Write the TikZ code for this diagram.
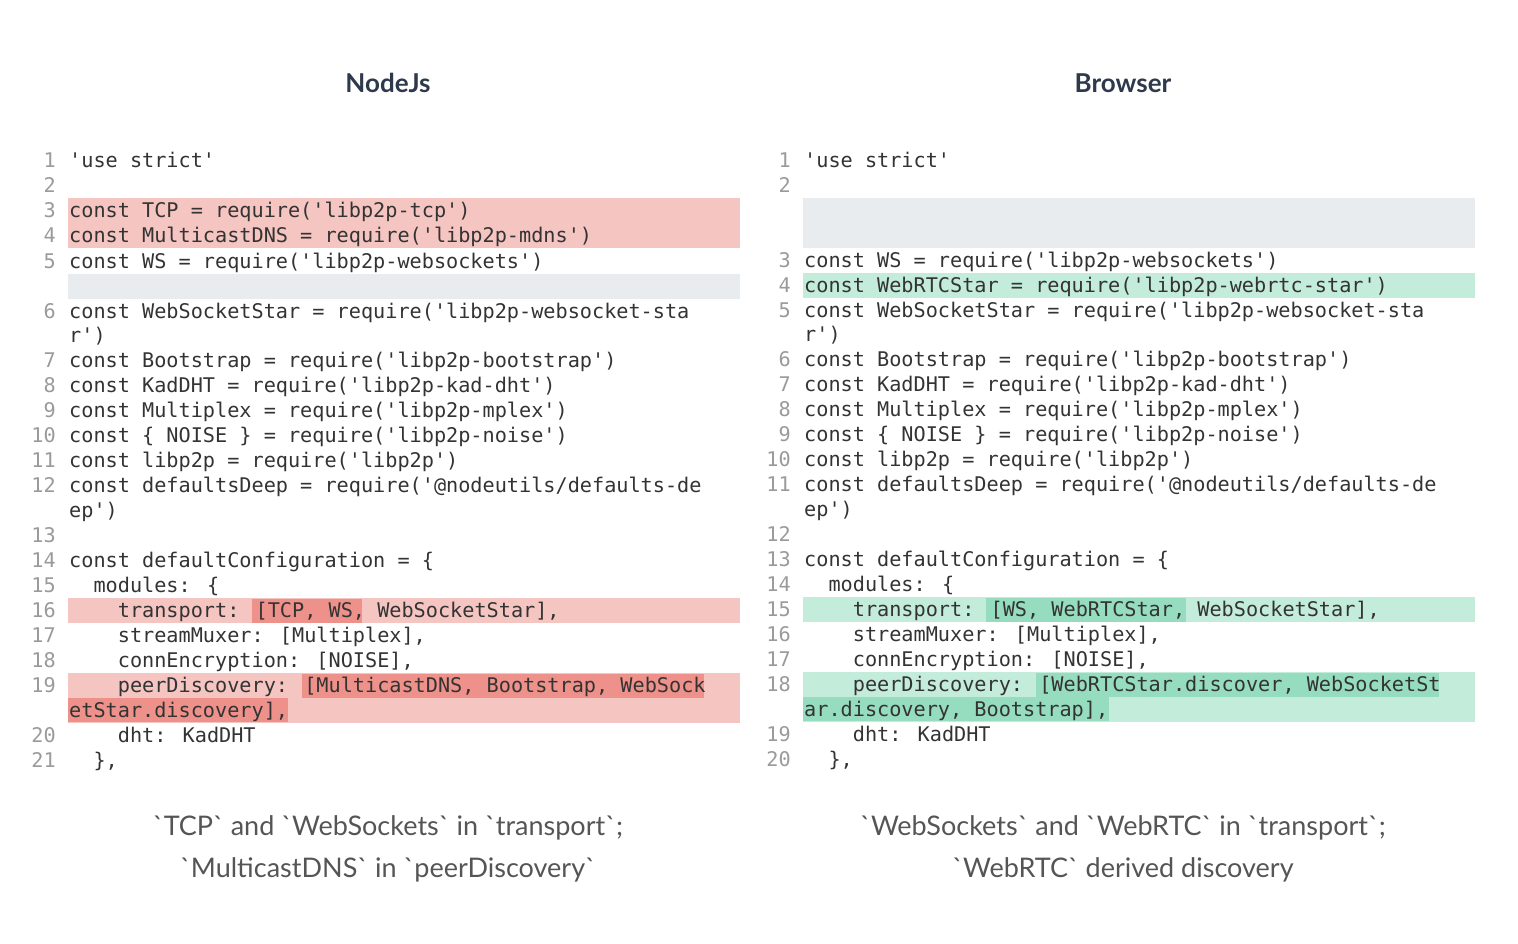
\documentclass[tikz,border=0pt]{standalone}
\usepackage{fontspec}
\setmainfont{Lato}
\newfontfamily\codefont{DejaVu Sans Mono}
\newfontfamily\capfont{Lato}
\definecolor{redL}{HTML}{F5C5C2}
\definecolor{redD}{HTML}{EE918A}
\definecolor{grnL}{HTML}{C3ECDB}
\definecolor{grnD}{HTML}{96DCBF}
\definecolor{grayB}{HTML}{E9ECEF}
\definecolor{txt}{HTML}{333333}
\definecolor{num}{HTML}{9A9A9A}
\definecolor{title}{HTML}{2E3A4B}
\definecolor{cap}{HTML}{555555}
\newcommand{\ind}[1]{\phantom{#1}}
\begin{document}
\begin{tikzpicture}[x=1pt,y=-1pt,
  code/.style={anchor=base west,inner sep=0pt,text=txt,font=\codefont\fontsize{20.2}{25}\selectfont},
  ln/.style={anchor=base east,inner sep=0pt,text=num,font=\codefont\fontsize{20.2}{25}\selectfont},
  ttl/.style={font=\fontsize{26}{30}\selectfont\bfseries,text=title},
  capn/.style={font=\capfont\fontsize{27}{42}\selectfont,text=cap,align=center}]
\useasboundingbox (0,0) rectangle (1518,944);
% bands left
\fill[redL] (68,198.5) rectangle (740,248.5);
\fill[grayB] (68,273.5) rectangle (740,298.5);
\fill[redL] (68,597.5) rectangle (740,622.5);
\fill[redL] (68,672.5) rectangle (740,722.5);
\fill[redD] (252,598.5) rectangle (362,622.5);
\fill[redD] (302,673.5) rectangle (704,697.5);
\fill[redD] (68,697.5) rectangle (288,721.5);
% bands right
\fill[grayB] (803,198.5) rectangle (1475,248.5);
\fill[grnL] (803,272.5) rectangle (1475,297.5);
\fill[grnL] (803,596.5) rectangle (1475,621.5);
\fill[grnL] (803,671.5) rectangle (1475,721.5);
\fill[grnD] (986,597.5) rectangle (1186,621.5);
\fill[grnD] (1036,672.5) rectangle (1439,696.5);
\fill[grnD] (803,696.5) rectangle (1109,720.5);
% titles
\node[ttl] (tL) at (388,83) {NodeJs};
\node[ttl] (tR) at (1123,83) {Browser};
% left code
\def\X{69}\def\N{56}
\node[ln] (nL1) at (\N,168) {1}; \node[code] (cL1) at (\X,168) {'use strict'};
\node[ln] (nL2) at (\N,193) {2};
\node[ln] (nL3) at (\N,218) {3}; \node[code] (cL3) at (\X,218) {const TCP = require('libp2p-tcp')};
\node[ln] (nL4) at (\N,243) {4}; \node[code] (cL4) at (\X,243) {const MulticastDNS = require('libp2p-mdns')};
\node[ln] (nL5) at (\N,268) {5}; \node[code] (cL5) at (\X,268) {const WS = require('libp2p-websockets')};
\node[ln] (nL6) at (\N,318) {6}; \node[code] (cL6) at (\X,318) {const WebSocketStar = require('libp2p-websocket-sta};
\node[code] (cL6b) at (\X,342) {r')};
\node[ln] (nL7) at (\N,367) {7}; \node[code] (cL7) at (\X,367) {const Bootstrap = require('libp2p-bootstrap')};
\node[ln] (nL8) at (\N,392) {8}; \node[code] (cL8) at (\X,392) {const KadDHT = require('libp2p-kad-dht')};
\node[ln] (nL9) at (\N,417) {9}; \node[code] (cL9) at (\X,417) {const Multiplex = require('libp2p-mplex')};
\node[ln] (nL10) at (\N,442) {10}; \node[code] (cL10) at (\X,442) {const \{ NOISE \} = require('libp2p-noise')};
\node[ln] (nL11) at (\N,467) {11}; \node[code] (cL11) at (\X,467) {const libp2p = require('libp2p')};
\node[ln] (nL12) at (\N,492) {12}; \node[code] (cL12) at (\X,492) {const defaultsDeep = require('@nodeutils/defaults-de};
\node[code] (cL12b) at (\X,517) {ep')};
\node[ln] (nL13) at (\N,542) {13};
\node[ln] (nL14) at (\N,567) {14}; \node[code] (cL14) at (\X,567) {const defaultConfiguration = \{};
\node[ln] (nL15) at (\N,592) {15}; \node[code] (cL15) at (\X,592) {\ind{mm}modules: \{};
\node[ln] (nL16) at (\N,617) {16}; \node[code] (cL16) at (\X,617) {\ind{mmmm}transport: [TCP, WS, WebSocketStar],};
\node[ln] (nL17) at (\N,642) {17}; \node[code] (cL17) at (\X,642) {\ind{mmmm}streamMuxer: [Multiplex],};
\node[ln] (nL18) at (\N,667) {18}; \node[code] (cL18) at (\X,667) {\ind{mmmm}connEncryption: [NOISE],};
\node[ln] (nL19) at (\N,692) {19}; \node[code] (cL19) at (\X,692) {\ind{mmmm}peerDiscovery: [MulticastDNS, Bootstrap, WebSock};
\node[code] (cL19b) at (\X,717) {etStar.discovery],};
\node[ln] (nL20) at (\N,742) {20}; \node[code] (cL20) at (\X,742) {\ind{mmmm}dht: KadDHT};
\node[ln] (nL21) at (\N,767) {21}; \node[code] (cL21) at (\X,767) {\ind{mm}\},};
% right code
\def\X{804}\def\N{791}
\node[ln] (nR1) at (\N,168) {1}; \node[code] (cR1) at (\X,168) {'use strict'};
\node[ln] (nR2) at (\N,193) {2};
\node[ln] (nR3) at (\N,267) {3}; \node[code] (cR3) at (\X,267) {const WS = require('libp2p-websockets')};
\node[ln] (nR4) at (\N,292) {4}; \node[code] (cR4) at (\X,292) {const WebRTCStar = require('libp2p-webrtc-star')};
\node[ln] (nR5) at (\N,317) {5}; \node[code] (cR5) at (\X,317) {const WebSocketStar = require('libp2p-websocket-sta};
\node[code] (cR5b) at (\X,341) {r')};
\node[ln] (nR6) at (\N,366) {6}; \node[code] (cR6) at (\X,366) {const Bootstrap = require('libp2p-bootstrap')};
\node[ln] (nR7) at (\N,391) {7}; \node[code] (cR7) at (\X,391) {const KadDHT = require('libp2p-kad-dht')};
\node[ln] (nR8) at (\N,416) {8}; \node[code] (cR8) at (\X,416) {const Multiplex = require('libp2p-mplex')};
\node[ln] (nR9) at (\N,441) {9}; \node[code] (cR9) at (\X,441) {const \{ NOISE \} = require('libp2p-noise')};
\node[ln] (nR10) at (\N,466) {10}; \node[code] (cR10) at (\X,466) {const libp2p = require('libp2p')};
\node[ln] (nR11) at (\N,491) {11}; \node[code] (cR11) at (\X,491) {const defaultsDeep = require('@nodeutils/defaults-de};
\node[code] (cR11b) at (\X,516) {ep')};
\node[ln] (nR12) at (\N,541) {12};
\node[ln] (nR13) at (\N,566) {13}; \node[code] (cR13) at (\X,566) {const defaultConfiguration = \{};
\node[ln] (nR14) at (\N,591) {14}; \node[code] (cR14) at (\X,591) {\ind{mm}modules: \{};
\node[ln] (nR15) at (\N,616) {15}; \node[code] (cR15) at (\X,616) {\ind{mmmm}transport: [WS, WebRTCStar, WebSocketStar],};
\node[ln] (nR16) at (\N,641) {16}; \node[code] (cR16) at (\X,641) {\ind{mmmm}streamMuxer: [Multiplex],};
\node[ln] (nR17) at (\N,666) {17}; \node[code] (cR17) at (\X,666) {\ind{mmmm}connEncryption: [NOISE],};
\node[ln] (nR18) at (\N,691) {18}; \node[code] (cR18) at (\X,691) {\ind{mmmm}peerDiscovery: [WebRTCStar.discover, WebSocketSt};
\node[code] (cR18b) at (\X,716) {ar.discovery, Bootstrap],};
\node[ln] (nR19) at (\N,741) {19}; \node[code] (cR19) at (\X,741) {\ind{mmmm}dht: KadDHT};
\node[ln] (nR20) at (\N,766) {20}; \node[code] (cR20) at (\X,766) {\ind{mm}\},};
% captions
\node[capn] (capL) at (388,849) {`TCP` and `WebSockets` in `transport`;\\`MulticastDNS` in `peerDiscovery`};
\node[capn] (capR) at (1123,849) {`WebSockets` and `WebRTC` in `transport`;\\`WebRTC` derived discovery};
\end{tikzpicture}
\end{document}
